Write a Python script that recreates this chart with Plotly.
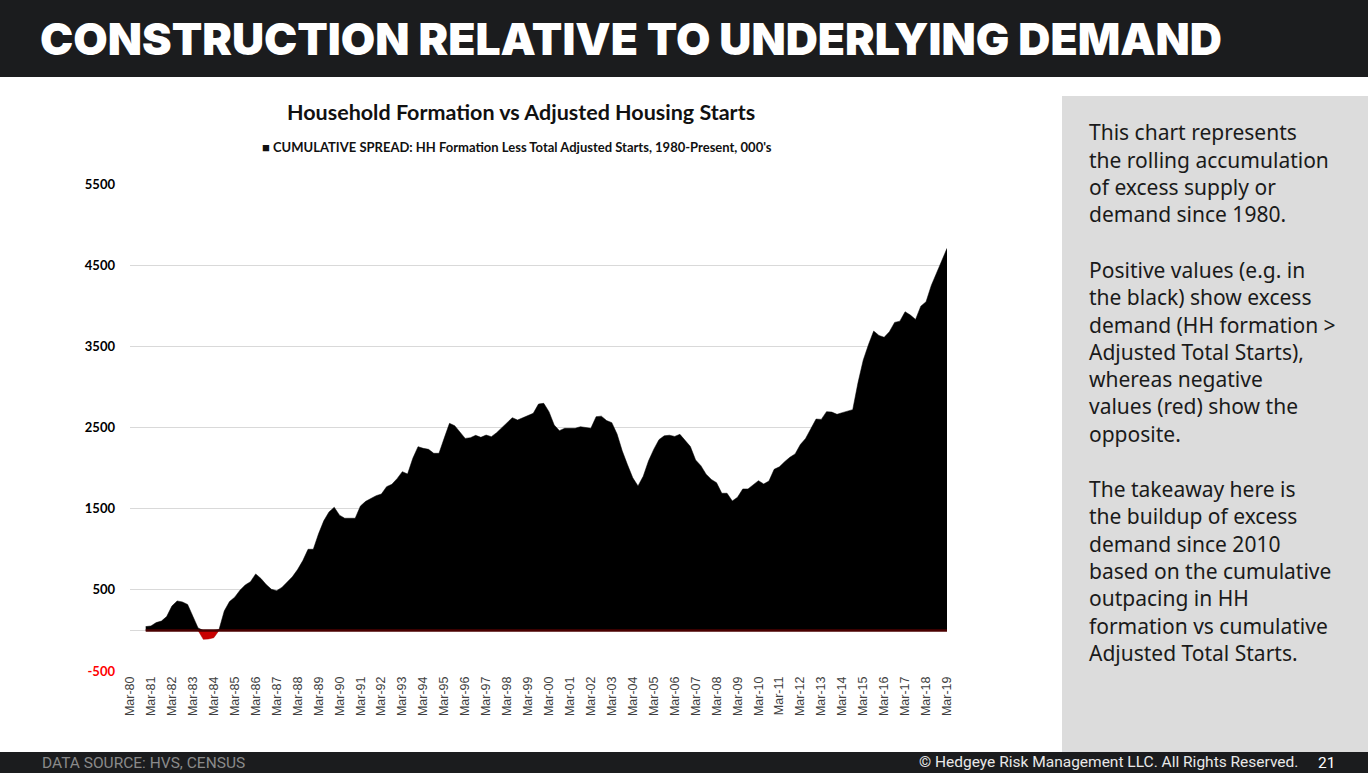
import numpy as np
import plotly.graph_objects as go

# ---------------- data ----------------
years = list(range(1980, 2020))
tick_labels = ["Mar-%02d" % (y % 100) for y in years]

# Cumulative spread (000's), quarterly from Mar-80 to Mar-19 (None = no data)
spread = [
    None, None, None, 47, 55, 96, 115, 170, 300, 363,
    351, 320, 170, 30, -110, -105, -90, 10, 240, 355,
    410, 495, 560, 600, 696, 640, 565, 507, 490, 530,
    590, 660, 750, 860, 1000, 1000, 1190, 1350, 1460, 1517,
    1420, 1382, 1382, 1382, 1533, 1590, 1625, 1660, 1680, 1771,
    1800, 1870, 1956, 1927, 2120, 2264, 2243, 2231, 2182, 2182,
    2370, 2551, 2522, 2448, 2366, 2374, 2403, 2379, 2407, 2387,
    2436, 2498, 2559, 2621, 2592, 2621, 2646, 2675, 2789, 2798,
    2695, 2530, 2461, 2490, 2490, 2490, 2510, 2498, 2490, 2633,
    2640, 2585, 2560, 2420, 2210, 2040, 1880, 1780, 1900, 2087,
    2230, 2350, 2397, 2405, 2390, 2416, 2346, 2265, 2100, 2030,
    1925, 1860, 1820, 1690, 1690, 1595, 1640, 1743, 1743, 1800,
    1845, 1804, 1840, 1985, 2015, 2079, 2133, 2175, 2290, 2365,
    2480, 2604, 2600, 2695, 2690, 2662, 2683, 2697, 2720, 3050,
    3330, 3520, 3688, 3635, 3611, 3680, 3795, 3810, 3926, 3885,
    3832, 3995, 4049, 4250, 4395, 4560, 4707,
]
y_ticks = [-500, 500, 1500, 2500, 3500, 4500, 5500]

# ---------------- layout constants ----------------
W, H = 1368, 773
L, R, T, B = 130, 947, 184, 671  # plot area in page pixels

def px(x):
    return (x - L) / (R - L)

def py(y):
    return (H - y - (H - B)) / (B - T)

q = np.arange(len(spread))
vals = np.array([np.nan if v is None else v for v in spread], dtype=float)
has = ~np.isnan(vals)
pos = np.where(has, np.clip(vals, 0, None), np.nan)
neg = np.where(has, np.clip(vals, None, 0), np.nan)

fig = go.Figure()
fig.add_trace(go.Scatter(
    x=q[has], y=pos[has], mode="lines", line=dict(color="black", width=0.5),
    fill="tozeroy", fillcolor="black", hoverinfo="skip", showlegend=False))
fig.add_trace(go.Scatter(
    x=q[has], y=neg[has], mode="lines", line=dict(color="#b00000", width=0.5),
    fill="tozeroy", fillcolor="#c80000", hoverinfo="skip", showlegend=False))
fig.add_trace(go.Scatter(
    x=q[has], y=np.zeros(has.sum()), mode="lines",
    line=dict(color="#4a0000", width=2.5), hoverinfo="skip", showlegend=False))

ytext = ["<span style='color:#ff0000'>%d</span>" % v if v < 0 else "%d" % v for v in y_ticks]

fig.update_layout(
    width=W, height=H,
    margin=dict(l=L, r=W - R, t=T, b=H - B, pad=0),
    paper_bgcolor="white", plot_bgcolor="white",
    xaxis=dict(
        range=[0, len(spread) - 1], tickmode="array",
        tickvals=list(range(0, len(spread), 4)), ticktext=tick_labels,
        tickangle=-90, showgrid=False, zeroline=False, showline=False,
        ticks="", ticklabelstandoff=2,
        tickfont=dict(family="Liberation Sans", size=12.5, color="#404040"),
        fixedrange=True,
    ),
    yaxis=dict(
        range=[-500, 5500], tickmode="array", tickvals=y_ticks, ticktext=ytext,
        showgrid=True, gridcolor="#d9d9d9", gridwidth=1,
        zeroline=True, zerolinecolor="#d9d9d9", zerolinewidth=1,
        showline=False, ticks="", ticklabelstandoff=14,
        tickfont=dict(family="Lato", size=13, color="black", weight="bold"),
        fixedrange=True,
    ),
    font=dict(family="Lato"),
)

shapes = [
    # top header band
    dict(type="rect", xref="paper", yref="paper", x0=px(0), x1=px(W), y0=py(77), y1=py(0),
         fillcolor="#1b1c1e", line=dict(width=0), layer="below"),
    # bottom footer band
    dict(type="rect", xref="paper", yref="paper", x0=px(0), x1=px(W), y0=py(H), y1=py(752),
         fillcolor="#1b1c1e", line=dict(width=0), layer="below"),
    # right text panel
    dict(type="rect", xref="paper", yref="paper", x0=px(1062), x1=px(W), y0=py(752), y1=py(96),
         fillcolor="#dcdcdc", line=dict(width=0), layer="below"),
]
fig.update_layout(shapes=shapes)

ann = []
ann.append(dict(text="CONSTRUCTION RELATIVE TO UNDERLYING DEMAND", x=px(38), y=py(39),
                xanchor="left", yanchor="middle",
                font=dict(family="Inter", size=44.5, color="white", weight=900)))
ann.append(dict(text="Household Formation vs Adjusted Housing Starts", x=px(521), y=py(112),
                xanchor="center", yanchor="middle",
                font=dict(family="Lato", size=21.5, color="#111111", weight="bold")))
ann.append(dict(text="■ CUMULATIVE SPREAD: HH Formation Less Total Adjusted Starts, 1980-Present, 000's",
                x=px(517), y=py(147), xanchor="center", yanchor="middle",
                font=dict(family="Lato", size=13, color="#111111", weight="bold")))

panel_lines = [
    ("This chart represents", 132), ("the rolling accumulation", 160),
    ("of excess supply or", 187), ("demand since 1980.", 214),
    ("Positive values (e.g. in", 270), ("the black) show excess", 297),
    ("demand (HH formation >", 325), ("Adjusted Total Starts),", 352),
    ("whereas negative", 379), ("values (red) show the", 406), ("opposite.", 434),
    ("The takeaway here is", 489), ("the buildup of excess", 516),
    ("demand since 2010", 544), ("based on the cumulative", 571),
    ("outpacing in HH", 598), ("formation vs cumulative", 626),
    ("Adjusted Total Starts.", 653),
]
for txt, yy in panel_lines:
    ann.append(dict(text=txt.replace(">", "&gt;"), x=px(1087), y=py(yy), xanchor="left", yanchor="middle",
                    font=dict(family="Noto Sans", size=21, color="#1a1a1a")))

ann.append(dict(text="DATA SOURCE: HVS, CENSUS", x=px(40), y=py(763), xanchor="left", yanchor="middle",
                font=dict(family="Roboto", size=15.5, color="#8a8a8a")))
ann.append(dict(text="© Hedgeye Risk Management LLC. All Rights Reserved.", x=px(1300), y=py(762),
                xanchor="right", yanchor="middle",
                font=dict(family="Roboto", size=15.5, color="#e8e8e8")))
ann.append(dict(text="21", x=px(1326), y=py(763), xanchor="center", yanchor="middle",
                font=dict(family="Roboto", size=15.5, color="white")))

for a in ann:
    a.update(xref="paper", yref="paper", showarrow=False)
fig.update_layout(annotations=ann)

fig.write_html("out.html", config={"displayModeBar": False},
               post_script="document.body.style.margin='0';document.body.style.overflow='hidden';")
